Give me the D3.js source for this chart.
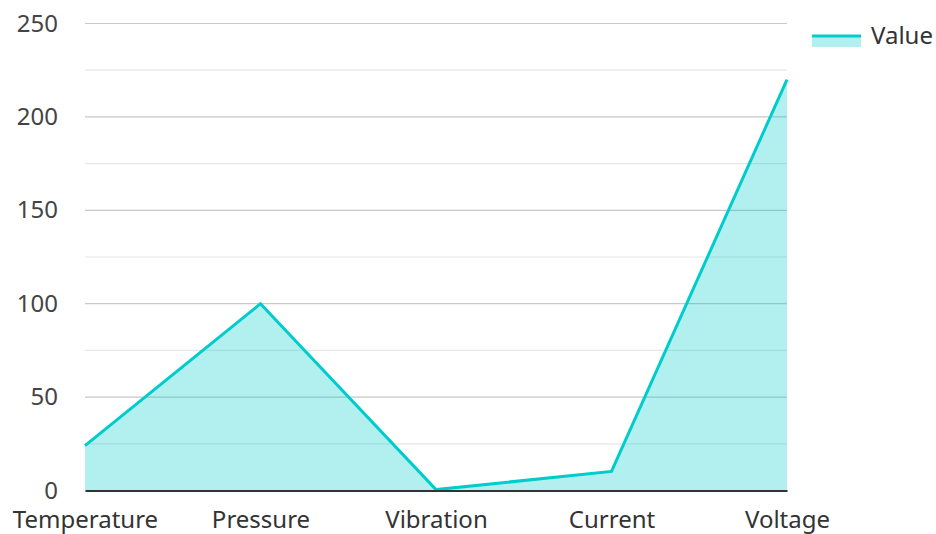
<!DOCTYPE html>
<html><head><meta charset="utf-8">
<script src="https://cdn.jsdelivr.net/npm/d3@7"></script>
<style>body{margin:0;background:#fff;}svg{display:block;font-family:"Noto Sans",sans-serif;}</style>
</head><body>
<svg id="c" width="936" height="534"></svg>
<script>
const categories = ["Temperature","Pressure","Vibration","Current","Voltage"];
const values = [24, 100, 0.5, 10.2, 220];
const yTicks = [0,50,100,150,200,250];
const yMinorTicks = [25,75,125,175,225];
const seriesName = "Value";

const svg = d3.select("#c");
const m = {l:85, r:149, t:23.5, b:43.5};
const W = 936, H = 534;
const x = d3.scalePoint().domain(categories).range([m.l, W-m.r]).padding(0);
const y = d3.scaleLinear().domain([0,250]).range([H-m.b, m.t]);
const data = categories.map((c,i)=>({c, v: values[i]}));

// gridlines
svg.append("g").selectAll("line.minor").data(yMinorTicks).join("line")
  .attr("x1", m.l).attr("x2", W-m.r).attr("y1", d=>y(d)).attr("y2", d=>y(d))
  .attr("stroke", "#e6e6e6").attr("stroke-width", 1.2);
svg.append("g").selectAll("line.major").data(yTicks.filter(d=>d>0)).join("line")
  .attr("x1", m.l).attr("x2", W-m.r).attr("y1", d=>y(d)).attr("y2", d=>y(d))
  .attr("stroke", "#c8c8c8").attr("stroke-width", 1.2);

// area
svg.append("path").datum(data)
  .attr("d", d3.area().x(d=>x(d.c)).y0(y(0)).y1(d=>y(d.v)))
  .attr("fill", "#00cccc").attr("fill-opacity", 0.3);
svg.append("path").datum(data)
  .attr("d", d3.line().x(d=>x(d.c)).y(d=>y(d.v)))
  .attr("fill", "none").attr("stroke", "#00cccc").attr("stroke-width", 3);

// y axis
const ya = svg.append("g").attr("transform", `translate(${m.l},0)`)
  .call(d3.axisLeft(y).tickValues(yTicks).tickSize(0).tickPadding(27));
ya.select(".domain").remove();
ya.selectAll("text").attr("font-size", 24).attr("fill", "#444").attr("font-family", "Noto Sans");

// x axis
const xa = svg.append("g").attr("transform", `translate(0,${y(0)})`)
  .call(d3.axisBottom(x).tickSize(0).tickPadding(20));
xa.select(".domain").attr("stroke", "#333").attr("stroke-width", 2);
xa.selectAll("text").attr("font-size", 24).attr("fill", "#333").attr("font-family", "Noto Sans");

// legend
const lg = svg.append("g").attr("transform", "translate(812,35)");
lg.append("rect").attr("x",0).attr("y",0).attr("width",49).attr("height",12).attr("fill","#00cccc").attr("fill-opacity",0.3);
lg.append("line").attr("x1",0).attr("x2",49).attr("y1",1).attr("y2",1).attr("stroke","#00cccc").attr("stroke-width",3);
lg.append("text").attr("x",59).attr("y",1).attr("dy","0.35em").attr("font-size",24).attr("fill","#333").text(seriesName);
</script>
</body></html>
